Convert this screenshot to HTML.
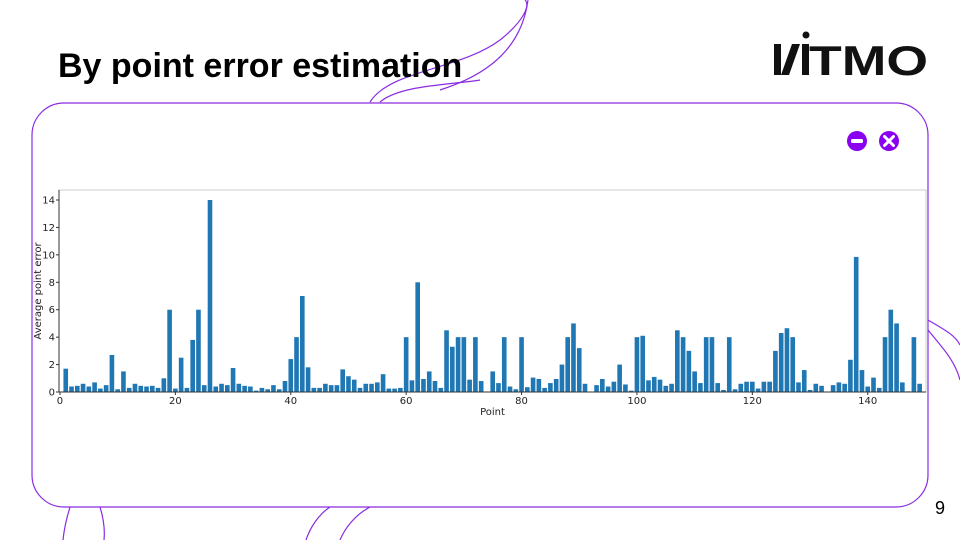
<!DOCTYPE html>
<html><head><meta charset="utf-8"><style>
body{margin:0;width:960px;height:540px;overflow:hidden;background:#fff;font-family:"Liberation Sans",sans-serif;position:relative}
</style></head><body>
<svg width="960" height="540" style="position:absolute;left:0;top:0">
<g fill="none" stroke="#8a2be2" stroke-width="1.2">
<path d="M370,102 C390,70 460,70 500,40 C525,20 530,5 525,0"/>
<path d="M380,102 C400,85 450,85 480,80"/>
<path d="M440,90 C470,80 520,60 528,0"/>
<path d="M928,320 C945,330 955,335 960,345"/>
<path d="M928,330 C940,345 955,360 960,380"/>
<path d="M70,507 C66,520 64,530 63,540"/>
<path d="M100,507 C104,520 105,530 104,540"/>
<path d="M330,507 C318,515 310,528 306,540"/>
<path d="M370,507 C355,515 345,528 340,540"/>
</g>
<rect x="32" y="103" width="896" height="404" rx="32" fill="none" stroke="#8a2be2" stroke-width="1.2"/>
<g>
<rect x="774" y="44" width="7" height="31" fill="#111"/>
<polygon points="781,75 789,75 800,44 792,44" fill="#111"/>
<circle cx="806" cy="35" r="3.5" fill="#111"/>
<rect x="802" y="44" width="7" height="31" fill="#111"/>
<text x="809" y="75" font-size="42" font-weight="bold" fill="#111" font-family="Liberation Sans" textLength="119" lengthAdjust="spacingAndGlyphs">TMO</text>
</g>
<g><circle cx="857" cy="141" r="10" fill="#8a00f0"/><rect x="851" y="139" width="12" height="4" rx="1.5" fill="#fff"/></g>
<g><circle cx="889" cy="141" r="10" fill="#8a00f0"/><path d="M884.5,136.5 L893.5,145.5 M893.5,136.5 L884.5,145.5" stroke="#fff" stroke-width="3" stroke-linecap="round"/></g>
<g id="chart"></g>
</svg>
<div style="position:absolute;left:58px;top:47px;font-size:34px;font-weight:bold;color:#000;letter-spacing:0px">By point error estimation</div>
<div style="position:absolute;left:935px;top:498px;font-size:18px;color:#000">9</div>
<script>
const points = [];
for (let i = 1; i <= 149; i++) points.push(i);
const errors = [1.7,0.4,0.45,0.6,0.4,0.7,0.25,0.5,2.7,0.2,1.5,0.3,0.6,0.45,0.4,0.45,0.3,1.0,6,0.25,2.5,0.3,3.8,6,0.5,14,0.4,0.6,0.5,1.75,0.6,0.45,0.4,0.1,0.3,0.2,0.5,0.2,0.8,2.4,4,7,1.8,0.3,0.3,0.6,0.5,0.5,1.65,1.15,0.9,0.3,0.6,0.6,0.7,1.3,0.25,0.25,0.3,4,0.85,8,0.95,1.5,0.8,0.3,4.5,3.3,4,4,0.9,4,0.8,0,1.5,0.65,4,0.4,0.2,4,0.35,1.05,0.95,0.3,0.65,0.95,2,4,5,3.2,0.6,0,0.5,0.95,0.4,0.75,2,0.55,0.1,4,4.1,0.85,1.1,0.9,0.45,0.6,4.5,4,3,1.5,0.65,4,4,0.65,0.15,4,0.2,0.6,0.75,0.75,0.25,0.75,0.75,3,4.3,4.65,4,0.7,1.6,0.15,0.6,0.45,0,0.5,0.7,0.6,2.35,9.85,1.6,0.4,1.05,0.3,4,6,5,0.7,0.05,4,0.6];
const xTicks = [0,20,40,60,80,100,120,140];
const yTicks = [0,2,4,6,8,10,12,14];
const NS = "http://www.w3.org/2000/svg";
const L = 59, R = 926, T = 190, B = 392;
const xMin = -0.17, xMax = 150.1, yMax = 14.73;
const xs = v => L + (v - xMin) / (xMax - xMin) * (R - L);
const ys = v => B - v / yMax * (B - T);
const g = document.getElementById('chart');
function mk(tag, attrs){ const e = document.createElementNS(NS, tag); for (const k in attrs) e.setAttribute(k, attrs[k]); g.appendChild(e); return e; }
const frame = mk('rect', {x:L, y:T, width:R-L, height:B-T, fill:'none', stroke:'#ccc', 'stroke-width':1});


const bw = 0.8 / (xMax - xMin) * (R - L);
points.forEach((p, i) => {
  const v = errors[i];
  const r = mk('rect', {x: xs(p) - bw/2, y: ys(v), width: bw, height: Math.max(0, B - ys(v)), fill:'#1f77b4'});
  
  
});
const ax = mk('line', {x1:L, y1:B, x2:R, y2:B, stroke:'#333', 'stroke-width':1});


const ay = mk('line', {x1:L, y1:T, x2:L, y2:B, stroke:'#333', 'stroke-width':1});


xTicks.forEach(t => {
  mk('line', {x1:xs(t), y1:B, x2:xs(t), y2:B+3, stroke:'#333'});
  const tx = mk('text', {x:xs(t), y:B+12, 'font-size':10, 'text-anchor':'middle', fill:'#222', 'font-family':'DejaVu Sans, sans-serif'});
  tx.textContent = t;
  
  
});
yTicks.forEach(t => {
  mk('line', {x1:L-3, y1:ys(t), x2:L, y2:ys(t), stroke:'#333'});
  const tx = mk('text', {x:L-4, y:ys(t)+3.5, 'font-size':10, 'text-anchor':'end', fill:'#222', 'font-family':'DejaVu Sans, sans-serif'});
  tx.textContent = t;
  
  
});
const xt = mk('text', {x:(L+R)/2, y:B+23, 'font-size':10, 'text-anchor':'middle', fill:'#222', 'font-family':'DejaVu Sans, sans-serif'});
xt.textContent = 'Point';


const yt = mk('text', {x:0, y:0, 'font-size':10, 'text-anchor':'middle', fill:'#222', 'font-family':'DejaVu Sans, sans-serif', transform:'translate(41,' + ((T+B)/2) + ') rotate(-90)'});
yt.textContent = 'Average point error';


</script>
</body></html>
